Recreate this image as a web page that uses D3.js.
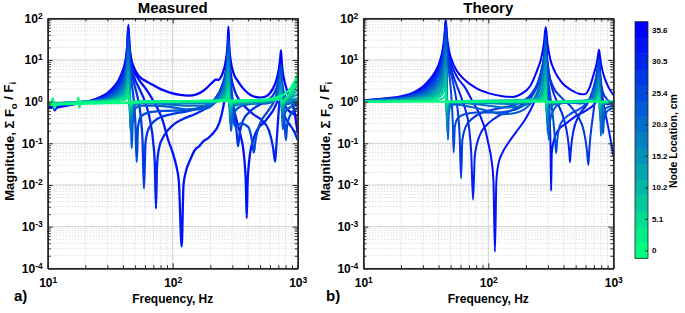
<!DOCTYPE html>
<html>
<head>
<meta charset="utf-8">
<script src="https://cdn.jsdelivr.net/npm/d3@7"></script>
<style>
  body { margin: 0; background: #fff; }
  text { font-family: "Liberation Sans", Arial, sans-serif; font-weight: bold; fill: #000; }
</style>
</head>
<body>
<svg id="chart" width="685" height="313"></svg>
<script>
// node positions along the beam (cm), index 0..14
const nodeLocations = [0, 2.54, 5.08, 7.62, 10.16, 12.7, 15.24, 17.78, 20.32, 22.86, 25.4, 27.94, 30.48, 33.02, 35.56];
const colorbarTickNodes = [0, 2, 4, 6, 8, 10, 12, 14];
const colorbarTickLabels = ["0", "5.1", "10.2", "15.2", "20.3", "25.4", "30.5", "35.6"];
const xMajorTicks = [10, 100, 1000];
const yMajorTicks = [1e-4, 1e-3, 1e-2, 1e-1, 1, 10, 100];

// ---- measured curves, [frequency Hz, magnitude] ----
const measured00 = [[10,0.83],[10.6,0.84],[11,1.2],[11.3,0.7],[11.7,0.85],[13,0.86],[15,0.87],[17.2,0.88],[17.6,1.25],[17.9,0.72],[18.3,0.89],[22,0.9],[30,0.92],[45,0.94],[60,0.97],[100,1.0],[160,1.03],[250,1.05],[400,1.08],[550,1.12],[650,1.22],[750,1.4],[820,1.7],[880,2.1],[930,2.8],[970,3.6],[1000,4.8]];
const measured01 = [[10,0.84],[15,0.91],[20,0.96],[30,1.0],[40,1.08],[42,1.14],[43.3,1.22],[44.2,1.35],[44.9,1.05],[45.6,0.92],[46.2,0.9],[46.8,0.94],[48.5,0.99],[60,1.0],[260,1.05],[272,1.14],[279,1.35],[283,1.02],[287,0.94],[291,0.93],[295,0.96],[310,1.0],[660,1.12],[735,1.12],[743,1.0],[752,0.95],[762,0.97],[800,1.2],[900,1.9],[1000,3.9]];
const measured02 = [[10,0.85],[15,0.92],[20,0.97],[30,1.01],[37,1.08],[40,1.18],[42,1.33],[43.3,1.55],[44.2,1.9],[44.9,1.15],[45.4,0.95],[45.8,0.83],[46.2,0.8],[46.8,0.9],[48.5,0.98],[60,1.0],[250,1.05],[268,1.2],[279,1.8],[283,1.1],[286,0.93],[288.5,0.88],[291,0.87],[295,0.93],[310,0.99],[640,1.1],[720,1.2],[735,1.25],[743,1.0],[750,0.92],[755,0.9],[762,0.95],[800,1.15],[900,1.6],[1000,3.2]];
const measured03 = [[10,0.86],[15,0.93],[20,0.98],[30,1.03],[37,1.15],[40,1.3],[42,1.55],[43.3,1.95],[44.2,2.6],[44.9,1.3],[45.4,0.95],[45.8,0.76],[46.2,0.7],[46.8,0.85],[48.5,0.97],[60,1.0],[240,1.04],[262,1.25],[273,1.6],[279,2.5],[283,1.25],[286,0.92],[288.5,0.82],[291,0.8],[295,0.9],[310,0.98],[620,1.08],[715,1.25],[735,1.45],[743,1.0],[750,0.87],[755,0.85],[762,0.93],[800,1.1],[1000,2.5]];
const measured04 = [[10,0.87],[15,0.94],[20,0.99],[30,1.05],[34,1.12],[37,1.24],[40,1.42],[42,1.75],[43.3,2.4],[44.2,3.6],[44.9,1.5],[45.4,0.95],[45.8,0.68],[46.2,0.6],[46.8,0.8],[48.5,0.95],[60,1.0],[230,1.02],[258,1.3],[272,1.9],[279,3.5],[283,1.4],[286,0.9],[288.5,0.72],[291,0.7],[295,0.85],[310,0.96],[600,1.05],[710,1.3],[735,1.7],[743,1.0],[750,0.82],[755,0.78],[762,0.9],[800,1.05],[1000,1.9]];
const measured05 = [[10,0.88],[15,0.95],[20,1.0],[30,1.07],[34,1.16],[37,1.32],[40,1.55],[42,2],[43.3,2.9],[44.2,5],[44.9,1.8],[45.4,0.95],[45.8,0.6],[46.2,0.5],[46.8,0.72],[48.5,0.93],[60,0.99],[220,1.0],[255,1.35],[270,2.2],[279,5],[283,1.6],[286,0.9],[288.5,0.65],[291,0.6],[295,0.8],[310,0.93],[550,1.02],[700,1.3],[725,1.6],[735,2],[743,1.0],[750,0.78],[755,0.7],[762,0.85],[800,1.0],[1000,1.5]];
const measured06 = [[10,0.88],[12,0.9],[15,0.95],[20,1.0],[30,1.1],[34,1.22],[37,1.42],[40,1.75],[42,2.3],[43.3,3.7],[44.2,7],[44.9,2.2],[45.4,0.9],[45.8,0.5],[46.2,0.4],[46.8,0.65],[48.5,0.9],[60,0.98],[200,0.97],[250,1.4],[268,2.5],[279,7],[283,1.8],[286,0.85],[288.5,0.55],[291,0.5],[295,0.75],[310,0.9],[500,1.0],[700,1.3],[725,1.8],[735,2.4],[743,1.05],[750,0.7],[755,0.6],[762,0.8],[800,0.95],[1000,1.2]];
const measured07 = [[10,0.88],[12,0.9],[15,0.95],[20,1.0],[25,1.03],[30,1.13],[34,1.3],[37,1.55],[40,2],[42,2.8],[43.3,4.8],[44.2,10],[44.9,2.5],[45.4,0.8],[45.8,0.4],[46.2,0.3],[46.8,0.55],[48.5,0.85],[60,0.97],[120,0.92],[200,0.92],[245,1.4],[265,2.8],[279,10],[283,2],[286,0.8],[288.5,0.45],[291,0.4],[295,0.65],[310,0.85],[500,0.97],[690,1.25],[720,2],[735,3],[743,1.1],[750,0.6],[755,0.5],[762,0.7],[800,0.92],[1000,1.05]];
const measured08 = [[10,0.87],[12,0.89],[15,0.94],[20,0.99],[25,1.04],[30,1.17],[34,1.4],[37,1.7],[40,2.3],[42,3.3],[43.3,6],[44.2,15],[44.9,3],[45.4,0.8],[45.8,0.3],[46.2,0.2],[46.8,0.45],[48.5,0.8],[55,0.92],[80,0.9],[130,0.8],[180,0.8],[225,1.1],[255,2],[270,4.5],[279,14],[283,2.5],[286,0.8],[288.5,0.35],[291,0.3],[295,0.55],[310,0.8],[400,0.92],[600,0.95],[690,1.4],[720,2.4],[735,4],[743,1.2],[750,0.5],[755,0.35],[762,0.55],[800,0.85],[1000,0.95]];
const measured09 = [[10,0.86],[12,0.88],[15,0.93],[20,0.99],[25,1.06],[30,1.22],[34,1.5],[37,1.9],[40,2.7],[42,4],[43.3,8],[44.2,22],[45,5],[45.8,0.8],[46.5,0.25],[47,0.077],[47.8,0.3],[49.5,0.65],[55,0.8],[70,0.8],[95,0.75],[130,0.65],[170,0.65],[210,0.85],[240,1.4],[262,3],[273,6.5],[279,20],[283.5,4],[287,1],[290,0.4],[293,0.2],[297,0.35],[310,0.55],[360,0.8],[450,0.9],[550,0.9],[640,1.05],[700,2],[735,5],[746,1.2],[755,0.4],[762,0.22],[770,0.35],[820,0.65],[1000,0.85]];
const measured10 = [[10,0.84],[12,0.86],[15,0.92],[20,0.99],[25,1.08],[30,1.28],[34,1.65],[37,2.1],[40,3.2],[42,5],[43.3,10],[44.2,30],[45.1,9],[46.5,3.5],[48.5,1.3],[50.3,0.3],[51.5,0.036],[52.8,0.25],[56,0.45],[65,0.55],[85,0.6],[120,0.62],[160,0.7],[205,0.95],[240,1.7],[262,3.5],[273,7.5],[279,25],[284,7],[290,2.3],[297,0.8],[305,0.35],[320,0.25],[350,0.3],[400,0.25],[430,0.12],[445,0.06],[460,0.12],[500,0.3],[580,0.6],[660,1.2],[710,2.8],[735,6.5],[750,2],[770,0.7],[790,0.25],[805,0.12],[820,0.25],[880,0.5],[1000,0.7]];
const measured11 = [[10,0.82],[12,0.84],[15,0.9],[20,0.98],[25,1.1],[30,1.35],[34,1.8],[37,2.4],[40,3.8],[42,6.2],[43.3,13],[44.2,38],[45.1,12],[46.5,5.5],[49,2.8],[52,1.4],[55,0.55],[57.5,0.1],[58.9,0.0083],[60.5,0.1],[64,0.22],[72,0.35],[85,0.45],[105,0.52],[135,0.6],[175,0.75],[215,1.1],[245,2],[263,4],[273,9],[279,32],[284,9],[291,3.2],[300,1.2],[312,0.5],[325,0.18],[333,0.085],[342,0.16],[365,0.35],[420,0.6],[500,0.85],[580,1.1],[650,1.6],[700,3],[735,8],[750,3],[780,1.5],[850,1],[930,0.9],[1000,0.9]];
const measured12 = [[10,0.8],[12,0.82],[15,0.88],[20,0.97],[25,1.12],[30,1.42],[34,1.95],[37,2.7],[40,4.5],[42,7.5],[43.3,16],[44.2,48],[45.1,15],[46.5,7.5],[49,4],[53,2.3],[58,1.3],[62,0.75],[66,0.35],[70,0.1],[72,0.03],[73.5,0.0027],[75,0.03],[78,0.08],[85,0.15],[100,0.27],[120,0.38],[150,0.5],[185,0.7],[220,1.2],[248,2.4],[265,5],[274,11],[279,38],[284,11],[292,4.5],[310,2],[340,1.1],[380,0.75],[440,0.5],[520,0.35],[590,0.2],[635,0.08],[660,0.036],[675,0.09],[700,0.45],[720,1.5],[735,4],[750,1.2],[780,0.5],[850,0.3],[930,0.2],[1000,0.12]];
const measured13 = [[10,0.75],[11,0.78],[11.4,0.62],[12,0.8],[15,0.85],[20,0.97],[25,1.15],[30,1.5],[34,2.1],[37,3],[40,5.2],[42,9],[43.3,20],[44.2,60],[45.1,20],[46.5,9.5],[49,5.5],[54,3.3],[62,1.9],[72,0.9],[82,0.4],[92,0.12],[100,0.06],[107,0.028],[112,0.012],[118,0.00033],[122,0.01],[127,0.02],[138,0.04],[151,0.07],[163,0.085],[175,0.11],[190,0.13],[205,0.16],[235,0.3],[255,0.8],[268,2.5],[274,7],[279,30],[284,7],[292,2],[305,0.8],[325,0.35],[350,0.15],[372,0.05],[385,0.01],[391,0.0016],[397,0.01],[410,0.04],[440,0.12],[470,0.2],[500,0.26],[530,0.3],[580,0.42],[650,0.7],[700,1.3],[722,2.5],[735,4.5],[750,1.8],[780,0.9],[850,0.6],[930,0.5],[1000,0.45]];
const measured14 = [[10,0.7],[10.8,0.72],[11.2,0.95],[11.5,0.7],[12.5,0.75],[15,0.82],[20,0.98],[25,1.2],[30,1.6],[34,2.3],[37,3.3],[40,5.8],[42,10],[43.3,22],[44.2,69],[45.1,22],[46.5,11],[49,6.5],[54,4],[60,3.2],[68,2.6],[80,2],[95,1.65],[115,1.45],[135,1.4],[155,1.5],[175,1.8],[195,2.4],[210,3.0],[222,3.4],[232,3.3],[242,3.8],[252,5],[262,7.5],[270,13],[275,24],[279,63],[283,22],[289,11],[298,6.5],[312,4.2],[330,3.2],[360,2.2],[400,1.6],[440,1.35],[500,1.25],[560,1.35],[610,1.7],[650,2.4],[685,3.8],[710,6.5],[725,11],[735,17],[745,9],[760,5],[790,2.8],[830,1.7],[880,1.1],[940,0.6],[1000,0.17]];

// ---- theory curves, [frequency Hz, magnitude] ----
const theory00 = [[10,1],[1000,1]];
const theory01 = [[10,1.0],[30,1.03],[38,1.08],[43,1.18],[44.6,1.3],[45.6,1.5],[46.1,1.05],[46.5,0.94],[46.8,0.93],[47.3,0.98],[49,1.0],[275,1.04],[285,1.2],[288,1.45],[290.5,1.04],[292,0.95],[294,0.94],[297,0.99],[750,1.03],[769,1.15],[775,1.0],[781,0.95],[790,0.99],[1000,1.0]];
const theory02 = [[10,1.0],[30,1.07],[38,1.2],[41,1.32],[43,1.5],[44.6,1.85],[45.6,2.3],[46.1,1.15],[46.5,0.88],[46.8,0.85],[47.3,0.96],[49,1.0],[270,1.08],[282,1.35],[288,2.1],[290.5,1.1],[292,0.9],[293.5,0.88],[296,0.97],[740,1.05],[760,1.2],[769,1.35],[775,1.0],[780,0.9],[784,0.9],[790,0.97],[1000,1.0]];
const theory03 = [[10,1.01],[20,1.04],[30,1.12],[34,1.19],[38,1.33],[41,1.52],[43,1.8],[44.6,2.4],[45.6,3.5],[46.1,1.25],[46.5,0.8],[46.8,0.75],[47.3,0.93],[49,0.99],[260,1.1],[278,1.5],[285,2.1],[288,3],[290.5,1.2],[292,0.85],[293.5,0.8],[296,0.95],[720,1.05],[755,1.3],[769,1.6],[775,1.0],[780,0.85],[784,0.82],[790,0.95],[1000,1.0]];
const theory04 = [[10,1.01],[20,1.06],[30,1.18],[34,1.28],[38,1.48],[41,1.75],[43,2.15],[44.6,3],[45.6,5],[46.1,1.4],[46.5,0.7],[46.8,0.65],[47.3,0.9],[49,0.98],[255,1.15],[275,1.7],[284,2.7],[288,4.2],[290.5,1.4],[292,0.78],[293.5,0.7],[296,0.93],[700,1.05],[750,1.4],[769,1.9],[775,1.05],[780,0.78],[784,0.75],[790,0.92],[1000,1.0]];
const theory05 = [[10,1.02],[20,1.08],[30,1.25],[34,1.38],[38,1.65],[41,2.0],[43,2.6],[44.6,3.8],[45.6,7],[46.1,1.6],[46.5,0.6],[46.8,0.55],[47.3,0.85],[49,0.97],[200,0.98],[255,1.25],[275,2],[284,3.5],[288,6],[290.5,1.7],[292,0.7],[293.5,0.6],[296,0.9],[320,0.98],[700,1.1],[750,1.6],[769,2.3],[775,1.1],[780,0.7],[784,0.65],[790,0.88],[850,1.0],[1000,1.0]];
const theory06 = [[10,1.02],[15,1.06],[20,1.1],[25,1.2],[30,1.32],[34,1.5],[38,1.85],[41,2.4],[43,3.2],[44.6,5],[45.6,10],[46.1,2],[46.5,0.5],[46.8,0.4],[47.3,0.75],[49,0.95],[100,0.97],[200,0.97],[250,1.3],[272,2.3],[283,4.5],[288,8.5],[290.5,2.2],[292,0.7],[293.5,0.45],[295.5,0.8],[305,0.95],[500,1.0],[700,1.2],[750,2],[769,3],[775,1.3],[780,0.6],[784,0.5],[790,0.8],[850,0.98],[1000,1.0]];
const theory07 = [[10,1.03],[15,1.07],[20,1.12],[25,1.23],[30,1.4],[34,1.65],[38,2.1],[41,2.9],[43,4],[44.6,7],[45.6,15],[46.2,2],[46.6,0.4],[46.9,0.25],[47.4,0.6],[49,0.9],[60,0.98],[100,0.92],[150,0.88],[200,0.95],[240,1.3],[265,2.5],[280,5.5],[288,12],[291,3],[293,0.8],[295,0.3],[297,0.6],[305,0.85],[350,0.95],[500,0.98],[680,1.2],[740,2.2],[762,3.5],[769,4],[776,1.5],[783,0.5],[788,0.35],[795,0.6],[850,0.95],[1000,0.98]];
const theory08 = [[10,1.03],[15,1.08],[20,1.15],[25,1.28],[30,1.5],[34,1.8],[38,2.4],[41,3.5],[43,5],[44.6,9],[45.6,22],[46.3,3],[46.8,0.5],[47.1,0.18],[47.6,0.5],[49,0.85],[55,0.95],[70,0.9],[100,0.8],[140,0.72],[190,0.8],[235,1.2],[262,2.5],[278,6],[288,17],[292,4],[295,1],[297,0.3],[299,0.17],[302,0.4],[315,0.75],[360,0.9],[450,0.95],[600,0.95],[700,1.5],[750,3],[769,5],[780,1.5],[790,0.4],[796,0.15],[805,0.5],[860,0.9],[1000,0.95]];
const theory09 = [[10,1.04],[15,1.1],[20,1.18],[25,1.33],[30,1.6],[34,2.0],[38,2.8],[41,4.3],[43,6.5],[44.6,13],[45.6,32],[46.5,5],[47.1,0.6],[47.6,0.12],[48.3,0.5],[50,0.8],[55,0.85],[65,0.8],[80,0.7],[100,0.6],[130,0.5],[170,0.55],[210,0.8],[245,1.6],[268,4],[280,9],[288,24],[293,6],[298,1.2],[302,0.25],[305,0.12],[310,0.3],[330,0.6],[380,0.9],[450,0.95],[550,0.9],[650,1.0],[720,2],[755,4.5],[769,7],[785,2],[800,0.5],[812,0.2],[820,0.35],[870,0.7],[1000,0.8]];
const theory10 = [[10,1.05],[15,1.12],[20,1.21],[25,1.4],[30,1.7],[34,2.2],[38,3.1],[41,5],[43,8],[44.6,17],[45.6,42],[46.7,14],[48.5,5],[50.5,1.5],[52,0.3],[52.8,0.06],[54,0.25],[57,0.4],[65,0.5],[80,0.55],[110,0.55],[150,0.6],[200,0.9],[240,2],[265,5],[280,12],[288,30],[294,9],[303,3],[315,1.2],[330,0.4],[342,0.12],[349,0.058],[356,0.12],[380,0.3],[450,0.5],[550,0.7],[650,1.2],[720,3],[755,7],[769,10],[785,4],[805,1.2],[818,0.4],[828,0.17],[840,0.35],[900,0.6],[1000,0.7]];
const theory11 = [[10,1.05],[15,1.14],[20,1.24],[25,1.45],[30,1.8],[34,2.4],[38,3.5],[41,6],[43,10],[44.6,22],[45.6,55],[46.7,20],[48.5,8],[51,4],[54,1.8],[57,0.6],[59,0.15],[60.5,0.0145],[62,0.12],[66,0.25],[75,0.4],[90,0.55],[110,0.65],[140,0.75],[180,0.95],[220,1.5],[250,3],[270,7],[282,16],[288,40],[294,13],[305,5],[330,2.3],[380,1.3],[450,0.8],[520,0.45],[580,0.2],[615,0.07],[632,0.03],[645,0.08],[690,0.5],[730,2],[755,5],[769,9],[785,4],[820,1.8],[900,1.1],[1000,0.9]];
const theory12 = [[10,1.06],[15,1.15],[20,1.27],[25,1.5],[30,1.95],[34,2.7],[38,4.1],[41,7],[43,12],[44.6,27],[45.6,70],[46.7,25],[48.5,10],[51,5.5],[55,2.8],[60,1.4],[65,0.7],[70,0.25],[73,0.06],[75.5,0.0044],[78,0.05],[85,0.15],[100,0.3],[120,0.45],[150,0.6],[190,0.9],[225,1.5],[255,3],[272,7],[282,16],[288,45],[294,14],[305,5],[325,2],[360,0.9],[400,0.4],[430,0.15],[445,0.06],[450,0.035],[456,0.06],[480,0.2],[540,0.5],[620,0.9],[690,2],[740,5],[769,12],[790,4],[830,1],[880,0.4],[940,0.15],[1000,0.05]];
const theory13 = [[10,1.07],[15,1.17],[20,1.3],[25,1.58],[30,2.1],[34,3.0],[38,4.8],[41,8.2],[43,14.5],[44.6,33],[45.6,85],[46.7,30],[48.5,13],[51,7.5],[56,4],[65,2.2],[75,1.0],[85,0.5],[95,0.2],[100,0.1],[106,0.04],[110,0.012],[113,0.00025],[116,0.012],[120,0.03],[130,0.06],[144,0.1],[170,0.2],[200,0.4],[230,0.9],[255,2],[272,5],[282,12],[288,40],[294,10],[300,3],[306,1],[311,0.3],[315,0.07],[318,0.0073],[322,0.06],[335,0.12],[360,0.2],[420,0.3],[500,0.45],[600,0.6],[700,0.85],[745,1.1],[769,1.5],[795,0.95],[900,0.88],[1000,0.9]];
const theory14 = [[10,1.08],[15,1.2],[20,1.35],[25,1.65],[30,2.3],[34,3.4],[38,5.5],[41,9.5],[43,17],[44.6,38],[45.6,95],[46.7,38],[48.5,17],[51,10],[56,5.5],[65,3.3],[80,2.1],[100,1.6],[130,1.35],[158,1.3],[185,1.55],[215,2.3],[245,5.5],[265,11],[278,24],[288,62],[298,24],[312,11],[340,5.3],[390,2.8],[460,1.9],[530,1.55],[590,1.5],[650,2.3],[700,4.8],[735,8],[755,13],[769,17.5],[783,12],[805,7],[850,3.8],[910,2.3],[1000,1.45]];

const measuredCurves = [measured00, measured01, measured02, measured03, measured04, measured05, measured06, measured07, measured08, measured09, measured10, measured11, measured12, measured13, measured14];
const theoryCurves = [theory00, theory01, theory02, theory03, theory04, theory05, theory06, theory07, theory08, theory09, theory10, theory11, theory12, theory13, theory14];

const svg = d3.select("#chart");
const nodeColor = d3.scaleLinear().domain([0, nodeLocations.length - 1])
	.range(["#00ff80", "#0000ff"]).interpolate(d3.interpolateRgb);

const yScale = d3.scaleLog().domain([1e-4, 1e2]).range([268.3, 18.3]);
const xMinor = [20, 30, 40, 50, 60, 70, 80, 90, 200, 300, 400, 500, 600, 700, 800, 900];
const yMinor = [];
yMajorTicks.slice(0, -1).forEach(d => { for (let k = 2; k <= 9; k++) yMinor.push(d * k); });

const panels = [
	{ left: 47.7, title: "Measured", tag: "a)", tagX: 14, curves: measuredCurves, lw: 2.3, ylabX: 14 },
	{ left: 363.3, title: "Theory", tag: "b)", tagX: 326, curves: theoryCurves, lw: 2, ylabX: 330 }
];

function powerLabels(g, supSize) {
	g.selectAll(".tick text").each(function(d) {
		const t = d3.select(this);
		t.text("10");
		t.append("tspan").attr("dy", "-0.48em").attr("font-size", supSize)
			.text(Math.round(Math.log10(d)));
	});
}

function styleAxis(g) {
	g.attr("font-family", null).attr("font-size", null);
	g.select(".domain").attr("stroke", "#262626").attr("stroke-width", 1.4);
	g.selectAll(".tick line").attr("stroke", "#262626").attr("stroke-width", 1);
}

panels.forEach((p, pi) => {
	const x = d3.scaleLog().domain([10, 1000]).range([p.left, p.left + 250]);
	const [x0, x1] = x.range();
	const [y0, y1] = yScale.range();
	const g = svg.append("g");

	g.append("clipPath").attr("id", "clip" + pi)
		.append("rect").attr("x", x0).attr("y", y1).attr("width", x1 - x0).attr("height", y0 - y1);

	// grid
	g.append("g").selectAll("line").data(xMinor).join("line")
		.attr("x1", d => x(d)).attr("x2", d => x(d)).attr("y1", y1).attr("y2", y0)
		.attr("stroke", "#c4c4c4").attr("stroke-width", 0.8).attr("stroke-dasharray", "1,2");
	g.append("g").selectAll("line").data(yMinor).join("line")
		.attr("y1", d => yScale(d)).attr("y2", d => yScale(d)).attr("x1", x0).attr("x2", x1)
		.attr("stroke", "#c4c4c4").attr("stroke-width", 0.8).attr("stroke-dasharray", "1,2");
	g.append("g").selectAll("line").data(xMajorTicks).join("line")
		.attr("x1", d => x(d)).attr("x2", d => x(d)).attr("y1", y1).attr("y2", y0)
		.attr("stroke", "#d0d0d0").attr("stroke-width", 1);
	g.append("g").selectAll("line").data(yMajorTicks).join("line")
		.attr("y1", d => yScale(d)).attr("y2", d => yScale(d)).attr("x1", x0).attr("x2", x1)
		.attr("stroke", "#d0d0d0").attr("stroke-width", 1);

	// curves, highest node first so node 0 ends on top
	const line = d3.line().x(d => x(d[0])).y(d => yScale(d[1])).curve(d3.curveMonotoneX);
	const order = d3.range(p.curves.length).reverse();
	g.append("g").attr("clip-path", `url(#clip${pi})`)
		.selectAll("path").data(order).join("path")
		.attr("d", n => line(p.curves[n]))
		.attr("fill", "none")
		.attr("stroke", n => nodeColor(n))
		.attr("stroke-width", p.lw)
		.attr("stroke-linejoin", "round");

	// axes, ticks pointing inward on all four sides
	const bottom = g.append("g").attr("transform", `translate(0,${y0})`)
		.call(d3.axisBottom(x).tickValues(xMajorTicks).tickSizeInner(-5).tickSizeOuter(0).tickPadding(10));
	styleAxis(bottom);
	bottom.selectAll(".tick text").attr("font-size", "12px");
	powerLabels(bottom, "8.5px");
	const bottomMinor = g.append("g").attr("transform", `translate(0,${y0})`)
		.call(d3.axisBottom(x).tickValues(xMinor).tickSizeInner(-3).tickSizeOuter(0).tickFormat(""));
	styleAxis(bottomMinor);

	const top = g.append("g").attr("transform", `translate(0,${y1})`)
		.call(d3.axisTop(x).tickValues(xMajorTicks).tickSizeInner(-5).tickSizeOuter(0).tickFormat(""));
	styleAxis(top);
	const topMinor = g.append("g").attr("transform", `translate(0,${y1})`)
		.call(d3.axisTop(x).tickValues(xMinor).tickSizeInner(-3).tickSizeOuter(0).tickFormat(""));
	styleAxis(topMinor);

	const left = g.append("g").attr("transform", `translate(${x0},0)`)
		.call(d3.axisLeft(yScale).tickValues(yMajorTicks).tickSizeInner(-5).tickSizeOuter(0).tickPadding(5));
	styleAxis(left);
	left.selectAll(".tick text").attr("font-size", "12px");
	powerLabels(left, "8.5px");
	const leftMinor = g.append("g").attr("transform", `translate(${x0},0)`)
		.call(d3.axisLeft(yScale).tickValues(yMinor).tickSizeInner(-3).tickSizeOuter(0).tickFormat(""));
	styleAxis(leftMinor);

	const right = g.append("g").attr("transform", `translate(${x1},0)`)
		.call(d3.axisRight(yScale).tickValues(yMajorTicks).tickSizeInner(-5).tickSizeOuter(0).tickFormat(""));
	styleAxis(right);
	const rightMinor = g.append("g").attr("transform", `translate(${x1},0)`)
		.call(d3.axisRight(yScale).tickValues(yMinor).tickSizeInner(-3).tickSizeOuter(0).tickFormat(""));
	styleAxis(rightMinor);

	// labels
	const xc = (x0 + x1) / 2;
	g.append("text").attr("x", xc).attr("y", 12.5).attr("text-anchor", "middle")
		.attr("font-size", "15px").text(p.title);
	g.append("text").attr("x", xc).attr("y", 303).attr("text-anchor", "middle")
		.attr("font-size", "12px").text("Frequency, Hz");
	g.append("text").attr("x", p.tagX).attr("y", 301).attr("font-size", "15px").text(p.tag);

	const yl = g.append("text")
		.attr("transform", `translate(${p.ylabX},${(y0 + y1) / 2 - 2}) rotate(-90)`)
		.attr("text-anchor", "middle").attr("font-size", "13px");
	yl.append("tspan").text("Magnitude, \u03A3 F");
	yl.append("tspan").attr("dy", "0.3em").attr("font-size", "9.5px").text("o");
	yl.append("tspan").attr("dy", "-0.3em").text(" / F");
	yl.append("tspan").attr("dy", "0.3em").attr("font-size", "9.5px").text("i");
});

// colorbar
const half = (nodeLocations[1] - nodeLocations[0]) / 2;
const cScale = d3.scaleLinear()
	.domain([nodeLocations[0] - half, nodeLocations[nodeLocations.length - 1] + half])
	.range([258.3, 21.7]);
const cb = svg.append("g");
cb.selectAll("rect").data(nodeLocations).join("rect")
	.attr("x", 635).attr("width", 13)
	.attr("y", d => cScale(d + half))
	.attr("height", d => cScale(d - half) - cScale(d + half) + 0.5)
	.attr("fill", (d, i) => nodeColor(i));
cb.append("rect").attr("x", 635).attr("y", 21.7).attr("width", 13).attr("height", 258.3 - 21.7)
	.attr("fill", "none").attr("stroke", "#262626").attr("stroke-width", 0.8);
const cbAxis = cb.append("g").attr("transform", "translate(648,0)")
	.call(d3.axisRight(cScale)
		.tickValues(colorbarTickNodes.map(i => nodeLocations[i]))
		.tickFormat((d, i) => colorbarTickLabels[i])
		.tickSizeInner(-3).tickSizeOuter(0).tickPadding(4));
cbAxis.attr("font-family", null).attr("font-size", null);
cbAxis.select(".domain").remove();
cbAxis.selectAll(".tick line").attr("stroke", "#262626");
cbAxis.selectAll(".tick text").attr("font-size", "8px");
cb.append("text").attr("transform", "translate(677,141) rotate(-90)")
	.attr("text-anchor", "middle").attr("font-size", "10.5px").text("Node Location, cm");
</script>
</body>
</html>
